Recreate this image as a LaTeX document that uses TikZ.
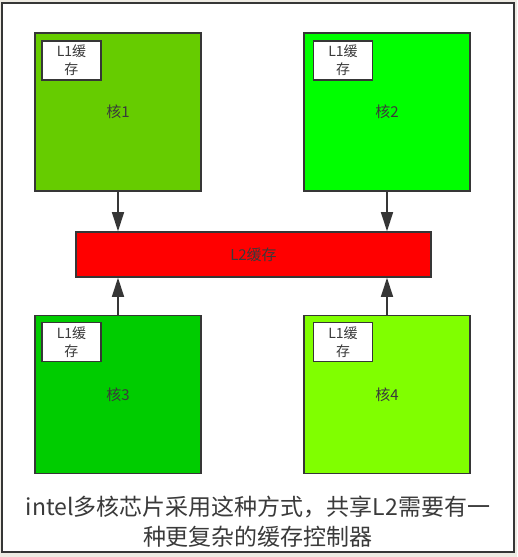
\documentclass[tikz,border=0pt]{standalone}
\usepackage{fontspec}
\setmainfont{Noto Sans CJK SC}
\usetikzlibrary{arrows.meta}
\definecolor{edge}{HTML}{363636}
\definecolor{txt}{HTML}{3A3A3A}
\definecolor{paper}{HTML}{EEEBE3}
\definecolor{coreA}{HTML}{66CC00}
\definecolor{coreB}{HTML}{00FF00}
\definecolor{coreC}{HTML}{00CC00}
\definecolor{coreD}{HTML}{80FF00}

\begin{document}
\begin{tikzpicture}
  [x=1pt,y=-1pt,
   every node/.style={draw=edge,line width=1.6pt,text=txt,inner sep=0pt},
   core/.style={minimum width=166pt,minimum height=158pt,font=\fontsize{15}{17}\selectfont},
   lone/.style={fill=white,minimum width=59pt,minimum height=39pt,align=center,
     font=\fontsize{14}{21}\selectfont},
   link/.style={draw=edge,line width=1.6pt,-{Triangle[length=19pt,width=12pt]}}]
  \useasboundingbox (0,0) rectangle (517,557);
  \fill[paper] (0,0) rectangle (517,557);
  \draw[edge,fill=white,line width=2pt] (2,3) rectangle (514,552);
  \node[core,fill=coreA] (c1) at (118,112) {核1};
  \node[core,fill=coreB] (c2) at (387,112) {核2};
  \node[core,fill=coreC] (c3) at (118,394.5) {核3};
  \node[core,fill=coreD] (c4) at (387,394.5) {核4};
  \node[lone] (l1a) at (71.5,60.5) {L1缓\\[-3pt]存};
  \node[lone] (l1b) at (343,60.5) {L1缓\\[-3pt]存};
  \node[lone] (l1c) at (71.5,342) {L1缓\\[-3pt]存};
  \node[lone] (l1d) at (343,342) {L1缓\\[-3pt]存};
  \node[fill=red,minimum width=355pt,minimum height=45pt,
    font=\fontsize{15}{17}\selectfont] (l2) at (253.5,254.5) {L2缓存};
  \foreach \from/\side in {c1/north, c2/north, c3/south, c4/south}
    \draw [link] (\from) -- (\from |- l2.\side);
  \node[draw=none,align=center,font=\fontsize{23}{30}\selectfont] (cap) at (258,522)
    {intel多核芯片采用这种方式，共享L2需要有一\\种更复杂的缓存控制器};
\end{tikzpicture}
\end{document}
